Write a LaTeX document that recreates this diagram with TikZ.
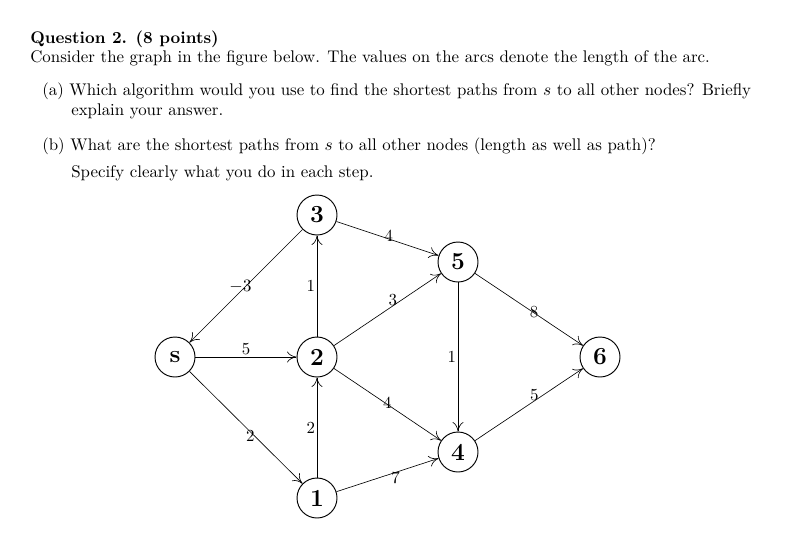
\documentclass[tikz,border=0pt]{standalone}
\usetikzlibrary{arrows.meta}
\begin{document}
\begin{tikzpicture}[x=0.0222cm,y=-0.0222cm,
    every node/.append style={font=\fontsize{10.65}{12.8}\selectfont},
    vertex/.style={circle,draw,semithick,minimum size=40*0.0222cm,inner sep=0pt,font=\fontsize{15.5}{18}\selectfont\bfseries},
    arc/.style={->,>={To[length=6pt,width=7pt]}},
    lbl/.style={midway,inner sep=1pt},
    txt/.style={anchor=base west,inner sep=0pt}]
  \useasboundingbox (0,0) rectangle (792,532);
  % question text
  \node[txt] (q) at (30,43) {\textbf{Question 2. (8 points)}};
  \node[txt] (c) at (30,62) {Consider the graph in the figure below. The values on the arcs denote the length of the arc.};
  \node[txt] (a1) at (42,95) {(a) Which algorithm would you use to find the shortest paths from $s$ to all other nodes? Briefly};
  \node[txt] (a2) at (71,115) {explain your answer.};
  \node[txt] (b1) at (42,150) {(b) What are the shortest paths from $s$ to all other nodes (length as well as path)?};
  \node[txt] (b2) at (71,177) {Specify clearly what you do in each step.};
  % graph
  \node[vertex] (s) at (175,357) {s};
  \node[vertex] (n2) at (317,357) {2};
  \node[vertex] (n3) at (317,215) {3};
  \node[vertex] (n1) at (317,498) {1};
  \node[vertex] (n5) at (458,262) {5};
  \node[vertex] (n4) at (458,452) {4};
  \node[vertex] (n6) at (600,357) {6};
  \draw[arc] (n3) -- node[lbl,above=-2pt,pos=0.55] {$-3$} (s);
  \draw[arc] (s) -- node[lbl,above] {5} (n2);
  \draw[arc] (s) -- node[lbl,below left=-3pt,pos=0.55] {2} (n1);
  \draw[arc] (n2) -- node[lbl,left] {1} (n3);
  \draw[arc] (n1) -- node[lbl,left] {2} (n2);
  \draw[arc] (n3) -- node[lbl,above right=-3pt] {4} (n5);
  \draw[arc] (n2) -- node[lbl,above=-1pt,pos=0.55] {3} (n5);
  \draw[arc] (n2) -- node[lbl,above right=-4pt] {4} (n4);
  \draw[arc] (n1) -- node[lbl,below right=-2pt,pos=0.55] {7} (n4);
  \draw[arc] (n5) -- node[lbl,left] {1} (n4);
  \draw[arc] (n5) -- node[lbl,above right=-4pt,pos=0.55] {8} (n6);
  \draw[arc] (n4) -- node[lbl,above=-1pt,pos=0.55] {5} (n6);
\end{tikzpicture}
\end{document}
